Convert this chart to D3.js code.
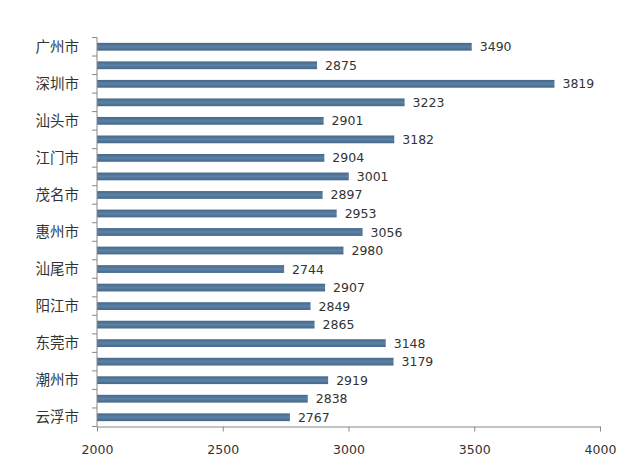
<!DOCTYPE html>
<html><head><meta charset="utf-8">
<script src="https://cdn.jsdelivr.net/npm/d3@7"></script>
<style>body{margin:0;background:#fff;}svg{display:block;}</style>
</head><body>
<svg id="c" width="640" height="467"></svg>
<script>
const categories = ["广州市","韶关市","深圳市","珠海市","汕头市","佛山市","江门市","湛江市","茂名市","肇庆市","惠州市","梅州市","汕尾市","河源市","阳江市","清远市","东莞市","中山市","潮州市","揭阳市","云浮市"];
const values = [3490,2875,3819,3223,2901,3182,2904,3001,2897,2953,3056,2980,2744,2907,2849,2865,3148,3179,2919,2838,2767];
const xTicks = [2000,2500,3000,3500,4000];

const svg = d3.select("#c");
const m = {l:97, r:600, t:37.5, b:426.5};
const x = d3.scaleLinear().domain([2000,4000]).range([m.l, m.r]);
const y = d3.scaleBand().domain(categories).range([m.t, m.b]).paddingInner(0.58).paddingOuter(0.29);

const defs = svg.append("defs");
const g = defs.append("linearGradient").attr("id","bg").attr("x1",0).attr("y1",0).attr("x2",0).attr("y2",1);
g.append("stop").attr("offset","0%").attr("stop-color","#45688a");
g.append("stop").attr("offset","50%").attr("stop-color","#5b81a4");
g.append("stop").attr("offset","100%").attr("stop-color","#45688a");

svg.append("g").selectAll("rect").data(values).join("rect")
  .attr("x", x(2000))
  .attr("y", (d,i)=>y(categories[i]))
  .attr("width", d=>x(d)-x(2000))
  .attr("height", y.bandwidth())
  .attr("fill","url(#bg)");

svg.append("g").selectAll("text").data(values).join("text")
  .attr("x", d=>x(d)+8)
  .attr("y", (d,i)=>y(categories[i])+y.bandwidth()/2)
  .attr("dy","0.36em")
  .attr("font-family","DejaVu Sans, sans-serif")
  .attr("font-size",12.5)
  .attr("fill","#333")
  .text(d=>d);

// x axis
const xa = svg.append("g").attr("transform",`translate(0,${m.b})`)
  .call(d3.axisBottom(x).tickValues(xTicks).tickSize(5).tickSizeOuter(0).tickFormat(d3.format("d")));
xa.select(".domain").attr("stroke","#888");
xa.selectAll(".tick line").attr("stroke","#888");
xa.selectAll("text").attr("font-family","DejaVu Sans, sans-serif").attr("font-size",12.5).attr("fill","#333").attr("dy","1.55em");

// y axis: tick marks at band boundaries, labels every other category
const yl = svg.append("g");
yl.append("line").attr("x1",m.l).attr("x2",m.l).attr("y1",m.t).attr("y2",m.b).attr("stroke","#888");
const bounds = d3.range(categories.length+1).map(i=>m.t + i*y.step());
yl.selectAll("line.t").data(bounds).join("line").attr("class","t")
  .attr("x1",m.l-5).attr("x2",m.l).attr("y1",d=>d).attr("y2",d=>d).attr("stroke","#888");
yl.selectAll("text").data(categories.filter((c,i)=>i%2===0)).join("text")
  .attr("x",79)
  .attr("y",d=>y(d)+y.bandwidth()/2)
  .attr("dy","0.36em")
  .attr("text-anchor","end")
  .attr("font-family","Noto Sans CJK SC, sans-serif")
  .attr("font-size",14.5)
  .attr("fill","#333")
  .text(d=>d);
</script>
</body></html>
